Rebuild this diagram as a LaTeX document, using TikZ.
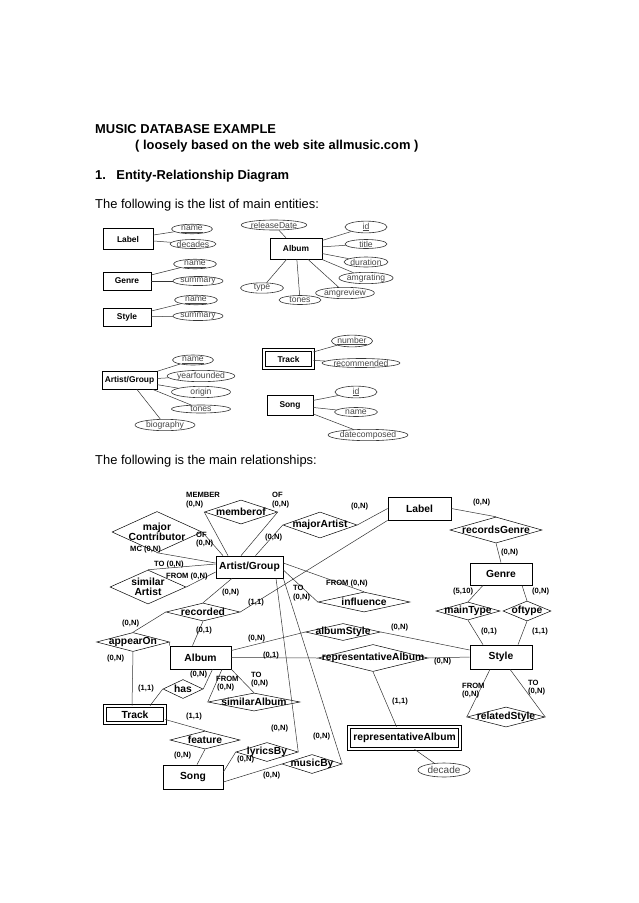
\documentclass[tikz,border=0pt]{standalone}
\usepackage{fontspec}
\setmainfont{Liberation Sans}
\usetikzlibrary{shapes.geometric}
\begin{document}
\begin{tikzpicture}[x=1pt,y=-1pt,
  ent/.style 2 args={draw, rectangle, line width=0.7pt, inner sep=0, minimum width=#1, minimum height=#2, font=\fontsize{8.4}{9}\selectfont\bfseries},
  went/.style 2 args={ent={#1}{#2}, double, double distance=2.2pt, line width=0.6pt},
  att/.style 2 args={ellipse, draw=black!80, line width=0.6pt, inner sep=0, minimum width=#1, minimum height=#2, font=\fontsize{8.6}{9}\selectfont, text=black!72},
  rent/.style 2 args={draw, rectangle, line width=0.7pt, inner sep=0, minimum width=#1, minimum height=#2, font=\fontsize{10.3}{11}\selectfont\bfseries},
  rwent/.style 2 args={rent={#1}{#2}, double, double distance=2.2pt, line width=0.6pt},
  dia/.style n args={3}{diamond, draw, line width=0.5pt, inner sep=0, minimum width=#1, minimum height=#2, label={[dtext]center:#3}},
  dtext/.style={font=\fontsize{10.3}{10.5}\selectfont\bfseries, align=center, inner sep=0},
  card/.style={font=\fontsize{7.6}{8}\selectfont\bfseries, anchor=west, inner sep=0},
  conn/.style={draw=black!80, line width=0.5pt},
  txt/.style={anchor=base west, inner sep=0, font=\fontsize{12.9}{14}\selectfont},
]
\useasboundingbox[fill=white] (0,0) rectangle (638,903);

% ---------- headings ----------
\node[txt, font=\fontsize{12.9}{14}\selectfont\bfseries] (title) at (95,133) {MUSIC DATABASE EXAMPLE};
\node[txt, font=\fontsize{12.9}{14}\selectfont\bfseries] (subtitle) at (135,149.5) {( loosely based on the web site allmusic.com )};
\node[txt, font=\fontsize{12.9}{14}\selectfont\bfseries] (heading) at (95,179.5) {1.\hspace{10.5pt}Entity-Relationship Diagram};
\node[txt] (para1) at (95,208.5) {The following is the list of main entities:};
\node[txt] (para2) at (95,464.5) {The following is the main relationships:};

% ---------- entities with attributes ----------
\node[ent={50}{21}] (eLabel) at (128,239) {Label};
\node[att={41}{9}] (eLabelName) at (192,229) {\underline{name}};
\node[att={42}{9}] (eLabelDec) at (193,244) {decades};
\draw[conn] (eLabel) -- (eLabelName);
\draw[conn] (eLabel) -- (eLabelDec);

\node[ent={48}{18}] (eGenre) at (127,281) {Genre};
\node[att={43}{9}] (eGenreName) at (195,264) {\underline{name}};
\node[att={49}{9}] (eGenreSum) at (198,281) {summary};
\draw[conn] (eGenre) -- (eGenreName);
\draw[conn] (eGenre) -- (eGenreSum);

\node[ent={48}{18}] (eStyle) at (127,317) {Style};
\node[att={43}{9}] (eStyleName) at (196,300) {\underline{name}};
\node[att={49}{9}] (eStyleSum) at (198,316) {summary};
\draw[conn] (eStyle) -- (eStyleName);
\draw[conn] (eStyle) -- (eStyleSum);

\node[ent={52}{21}] (eAlbum) at (296,248.5) {Album};
\node[att={62}{10}] (eAlbRel) at (274,225) {releaseDate};
\node[att={42}{10}] (eAlbId) at (366,227) {\underline{id}};
\node[att={42}{9}] (eAlbTitle) at (366,244) {title};
\node[att={42}{10}] (eAlbDur) at (366,262) {duration};
\node[att={42}{9}] (eAlbAmgr) at (366,278) {amgrating};
\node[att={46}{9}] (eAlbAmgv) at (345,293) {amgreview};
\node[att={42}{9}] (eAlbTones) at (300,300) {tones};
\node[att={43}{9}] (eAlbType) at (262,288) {type};
\foreach \a in {eAlbRel,eAlbId,eAlbTitle,eAlbDur,eAlbAmgr,eAlbAmgv,eAlbTones,eAlbType}
  \draw[conn] (eAlbum) -- (\a);

\node[ent={55}{18}] (eArtist) at (129.5,380) {Artist/Group};
\node[att={41}{10}] (eArtName) at (193,360) {\underline{name}};
\node[att={59}{9}] (eArtYear) at (201,376) {yearfounded};
\node[att={59}{10}] (eArtOrig) at (201,392) {origin};
\node[att={59}{8}] (eArtTones) at (201,409) {tones};
\node[att={60}{10}] (eArtBio) at (165,425) {biography};
\foreach \a in {eArtName,eArtYear,eArtOrig,eArtTones,eArtBio}
  \draw[conn] (eArtist) -- (\a);

\node[went={49}{18}] (eTrack) at (288.5,359) {Track};
\node[att={41}{8}] (eTrNum) at (352,341) {\underline{number}};
\node[att={58}{9}] (eTrRec) at (361,363) {recommended};
\draw[conn] (eTrack) -- (eTrNum);
\draw[conn] (eTrack) -- (eTrRec);

\node[ent={46}{20}] (eSong) at (290,405) {Song};
\node[att={42}{10}] (eSongId) at (356,392) {\underline{id}};
\node[att={43}{9}] (eSongName) at (356,412) {name};
\node[att={59}{10}] (eSongDate) at (368,435) {datecomposed};
\draw[conn] (eSong) -- (eSongId);
\draw[conn] (eSong) -- (eSongName);
\draw[conn] (eSong) -- (eSongDate);

% ---------- relationships: entities ----------
\node[rent={67}{22}] (Artist) at (249.5,567) {Artist/Group};
\node[rent={63}{23}] (Label) at (419.5,508.5) {Label};
\node[rent={62}{22}] (Genre) at (501,574) {Genre};
\node[rent={62}{24}] (Style) at (501,657) {Style};
\node[rent={61}{23}] (Album) at (200.5,657.5) {Album};
\node[rwent={60}{17}] (Track) at (135,714.5) {Track};
\node[rent={60}{24}] (Song) at (193,777) {Song};
\node[rwent={111}{22}] (RepAlb) at (404.5,738) {representativeAlbum};
\node[att={52}{14}, font=\fontsize{10}{11}\selectfont] (decade) at (444,770) {decade};

% ---------- relationships: diamonds ----------
\node[dia={73}{24}{memberof}] (memberof) at (241,512) {};
\node[dia={90}{41}{major\\Contributor}] (majorC) at (157,532) {};
\node[dia={74}{26}{majorArtist}] (majorA) at (320,525) {};
\node[dia={92}{26}{recordsGenre}] (recG) at (496,530) {};
\node[dia={76}{34}{similar\\Artist}] (simA) at (148,587) {};
\node[dia={92}{20}{influence}] (infl) at (364,602) {};
\node[dia={74}{18}{recorded}] (recd) at (203,612) {};
\node[dia={64}{18}{mainType}] (mainT) at (468,611) {};
\node[dia={48}{20}{oftype}] (ofT) at (527,611) {};
\node[dia={75}{17}{albumStyle}] (albS) at (343,632) {};
\node[dia={110}{27}{representativeAlbum}] (repR) at (373,658) {};
\node[dia={73}{19}{appearOn}] (appOn) at (133,642) {};
\node[dia={40}{19}{has}] (has) at (183,689) {};
\node[dia={92}{18}{similarAlbum}] (simAl) at (254,702) {};
\node[dia={78}{20}{relatedStyle}] (relS) at (506,717) {};
\node[dia={70}{18}{feature}] (feat) at (205,740) {};
\node[dia={62}{19}{lyricsBy}] (lyr) at (267,752) {};
\node[dia={60}{19}{musicBy}] (mus) at (312,764) {};

% ---------- connectors ----------
\draw[conn] (memberof.west) -- ([xshift=-21.5pt]Artist.north);
\draw[conn] (memberof.east) -- ([xshift=-8.5pt]Artist.north);
\draw[conn] (majorA.west) -- ([xshift=6pt]Artist.north);
\draw[conn] (majorA.east) -- (Label.west);
\draw[conn] (majorC.east) -- ([xshift=-26.5pt]Artist.north);
\draw[conn] (majorC.south) -- ([yshift=4pt]Artist.west);
\draw[conn] (simA.north) -- ([yshift=3pt]Artist.west);
\draw[conn] (simA.east) -- ([yshift=-5pt]Artist.west);
\draw[conn] (recd.north) -- ([xshift=-17.5pt]Artist.south);
\draw[conn] (recd.east) -- (Label.south west);
\draw[conn] (recd.west) -- (appOn.north);
\draw[conn] (recd.south) -- ([xshift=-8pt]Album.north);
\draw[conn] (appOn.south) -- ([xshift=-3pt]Track.north);
\draw[conn] (appOn.east) -- (Album.north west);
\draw[conn] ([yshift=7pt]Album.east) -- (albS.west);
\draw[conn] (albS.east) -- ([yshift=7pt]Style.west);
\draw[conn] (Album.east) -- (repR.west);
\draw[conn] (repR.east) -- (Style.west);
\draw[conn] (repR.south) -- ([xshift=-8pt]RepAlb.north);
\draw[conn] ([xshift=10pt]RepAlb.south) -- (decade);
\draw[conn] ([xshift=12pt]Album.south) -- (has.east);
\draw[conn] (has.west) -- ([xshift=15pt]Track.north);
\draw[conn] ([xshift=21.5pt]Album.south) -- (simAl.west);
\draw[conn] (Album.south east) -- (simAl.north);
\draw[conn] ([yshift=-5pt]Track.east) -- (feat.north);
\draw[conn] (feat.south) -- ([xshift=4pt]Song.north);
\draw[conn] ([yshift=5pt]Song.east) -- (lyr.west);
\draw[conn] ([yshift=-5pt]Song.east) -- (mus.west);
\draw[conn] (lyr.east) -- ([xshift=26.5pt]Artist.south);
\draw[conn] (mus.east) -- (Artist.south east);
\draw[conn] ([yshift=4pt]Artist.east) -- (infl.north);
\draw[conn] ([yshift=-3pt]Artist.east) -- (infl.west);
\draw[conn] (Label.east) -- (recG.north);
\draw[conn] (recG.south) -- (Genre.north);
\draw[conn] ([xshift=-18pt]Genre.south) -- (mainT.north);
\draw[conn] ([xshift=21pt]Genre.south) -- (ofT.north);
\draw[conn] (mainT.south) -- ([xshift=-18pt]Style.north);
\draw[conn] (ofT.south) -- ([xshift=17pt]Style.north);
\draw[conn] ([xshift=-11pt]Style.south) -- (relS.west);
\draw[conn] ([xshift=9pt]Style.south) -- (relS.east);

% ---------- cardinalities ----------
\foreach \x/\y/\t [count=\i] in {
  186/495/MEMBER, 186/505/{(0,N)}, 272/495/OF, 272/505/{(0,N)},
  196/535/OF, 196/544/{(0,N)}, 265/538/{(0,N)}, 130/550/{MC (0,N)},
  154/565/{TO (0,N)}, 166/577/{FROM (0,N)}, 222/593/{(0,N)}, 248/603/{(1,1)},
  293/588/TO, 293/598/{(0,N)}, 326/584/{FROM (0,N)}, 351/507/{(0,N)},
  473/503/{(0,N)}, 501/553/{(0,N)}, 453/592/{(5,10)}, 532/592/{(0,N)},
  481/632/{(0,1)}, 532/632/{(1,1)}, 391/628/{(0,N)}, 434/662/{(0,N)},
  122/624/{(0,N)}, 196/631/{(0,1)}, 248/639/{(0,N)}, 263/656/{(0,1)},
  107/659/{(0,N)}, 190/675/{(0,N)}, 216/679/FROM, 217/688/{(0,N)},
  251/675/TO, 251/684/{(0,N)}, 138/689/{(1,1)}, 392/702/{(1,1)},
  462/686/FROM, 462/695/{(0,N)}, 528/683/TO, 528/692/{(0,N)},
  186/717/{(1,1)}, 271/729/{(0,N)}, 313/737/{(0,N)}, 174/756/{(0,N)},
  237/760/{(0,N)}, 263/776/{(0,N)}}
  \node[card] (card\i) at (\x,\y) {\t};

\end{tikzpicture}
\end{document}
